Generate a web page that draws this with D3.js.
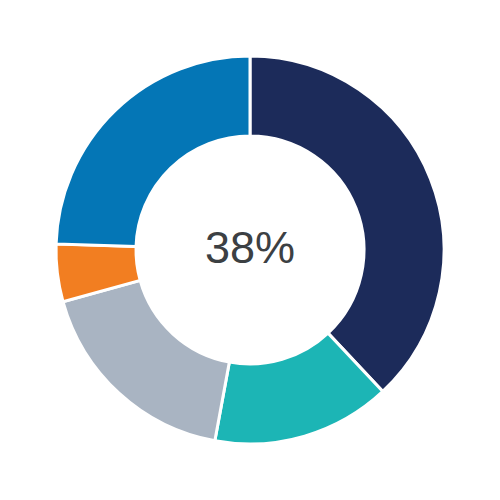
<!DOCTYPE html>
<html><head><meta charset="utf-8">
<script src="https://cdn.jsdelivr.net/npm/d3@7"></script>
<style>html,body{margin:0;padding:0;background:#fff;}</style>
</head><body>
<svg id="chart" width="500" height="500"></svg>
<script>
const categories = ["Navy", "Teal", "Gray", "Orange", "Blue"];
const values = [38, 14.9, 17.8, 4.8, 24.5];
const colors = ["#1c2b5a", "#1cb5b5", "#a9b4c2", "#f27e21", "#0476b6"];
const centerLabel = "38%";

const svg = d3.select("#chart");
const g = svg.append("g").attr("transform", "translate(250,250)");
const data = categories.map((c, i) => ({cat: c, value: values[i], color: colors[i]}));
const pie = d3.pie().value(d => d.value).sort(null);
const arc = d3.arc().innerRadius(114).outerRadius(194);
g.selectAll("path").data(pie(data)).join("path")
  .attr("d", arc)
  .attr("fill", d => d.data.color)
  .attr("stroke", "#fff")
  .attr("stroke-width", 3);
g.append("text")
  .attr("x", 0).attr("y", 13)
  .attr("text-anchor", "middle")
  .attr("font-family", "Liberation Sans, Arial, sans-serif")
  .attr("font-size", 45)
  .attr("fill", "#3c4043")
  .text(centerLabel);
</script>
</body></html>
